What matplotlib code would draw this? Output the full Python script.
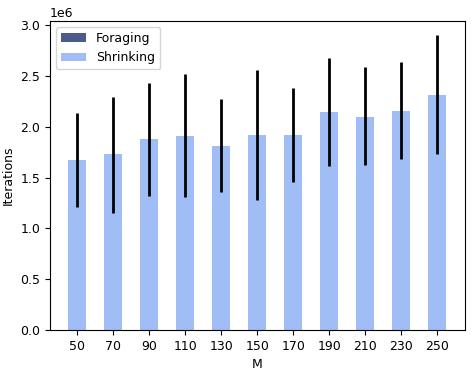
import matplotlib
matplotlib.use('Agg')
import matplotlib.pyplot as plt
import numpy as np

# M values and mean iterations
m_values = [50, 70, 90, 110, 130, 150, 170, 190, 210, 230, 250]
foraging = [0, 0, 0, 0, 0, 0, 0, 0, 0, 0, 0]
shrinking = [1.67e6, 1.73e6, 1.88e6, 1.91e6, 1.81e6, 1.92e6, 1.92e6, 2.14e6, 2.10e6, 2.15e6, 2.31e6]
err_low = [1.21e6, 1.15e6, 1.32e6, 1.31e6, 1.36e6, 1.28e6, 1.46e6, 1.61e6, 1.62e6, 1.68e6, 1.73e6]
err_high = [2.13e6, 2.29e6, 2.43e6, 2.52e6, 2.27e6, 2.56e6, 2.38e6, 2.68e6, 2.59e6, 2.64e6, 2.90e6]

plt.rcParams['font.size'] = 9

fig = plt.figure(figsize=(4.74, 3.73), dpi=100)
ax = fig.add_axes([0.105, 0.115, 0.876, 0.829])

x = np.arange(len(m_values))
sh = np.array(shrinking)
yerr = [sh - np.array(err_low), np.array(err_high) - sh]

ax.bar(x, foraging, width=0.5, color='#4c5b8c', label='Foraging')
ax.bar(x, shrinking, width=0.5, bottom=foraging, color='#a1bdf5', label='Shrinking')
ax.errorbar(x, sh, yerr=yerr, fmt='none', ecolor='black', elinewidth=2, capsize=0)

ax.set_xticks(x)
ax.set_xticklabels([str(m) for m in m_values])
ax.set_xlim(-0.77, 10.77)
ax.set_ylim(0, 3.04e6)
ax.set_xlabel('M')
ax.set_ylabel('Iterations')
ax.legend(loc='upper left')

fig.savefig('out.png', dpi=100)
